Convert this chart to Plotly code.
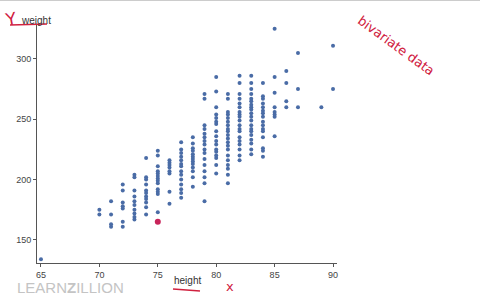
import plotly.graph_objects as go

# Data: height (in) -> list of weights (lb)
heights_weights = {
    65: [134],
    70: [175, 171],
    71: [182, 171, 163, 161],
    72: [196, 191, 181, 178, 176, 165, 161],
    73: [204, 202, 191, 186, 182, 179, 175, 172, 169, 167],
    74: [218, 202, 200, 196, 191, 189, 186, 184, 181, 177, 171],
    75: [224, 220, 211, 207, 205, 203, 201, 199, 197, 192, 190, 188, 173],
    76: [216, 214, 212, 210, 207, 205, 190, 180],
    77: [231, 225, 222, 219, 216, 213, 211, 207, 204, 200, 196, 192, 189, 185],
    78: [235, 230, 226, 224, 221, 219, 217, 215, 213, 210, 207, 202, 194],
    79: [271, 267, 245, 242, 238, 235, 232, 229, 225, 222, 217, 212, 207, 202, 197, 182],
    80: [285, 273, 260, 254, 251, 248, 246, 240, 236, 232, 229, 225, 223, 220, 218, 212, 205],
    81: [271, 267, 256, 254, 251, 248, 245, 242, 240, 237, 234, 231, 228, 225, 220, 216, 212, 209, 204, 197],
    82: [286, 280, 271, 267, 263, 260, 256, 254, 252, 249, 245, 242, 240, 235, 232, 229, 225, 220, 216],
    83: [286, 280, 275, 271, 267, 265, 262, 260, 258, 255, 252, 249, 245, 242, 240, 237, 233, 230, 225, 221],
    84: [280, 269, 267, 263, 260, 257, 255, 252, 248, 245, 242, 240, 235, 226, 224, 219],
    85: [325, 285, 272, 260, 256, 254, 252, 236],
    86: [290, 280, 265, 260],
    87: [305, 275, 260],
    89: [260],
    90: [311, 275],
}
height = [h for h, ws in heights_weights.items() for _ in ws]
weight = [w for ws in heights_weights.values() for w in ws]

highlight_height = [75]
highlight_weight = [165]

x_ticks = [65, 70, 75, 80, 85, 90]
y_ticks = [150, 200, 250, 300]

fig = go.Figure()
fig.add_trace(go.Scatter(
    x=height, y=weight, mode="markers",
    marker=dict(size=4, color="#4a6ca6", line=dict(width=0)),
    showlegend=False, hoverinfo="skip"))
fig.add_trace(go.Scatter(
    x=highlight_height, y=highlight_weight, mode="markers",
    marker=dict(size=6, color="#c8245a", line=dict(width=0)),
    showlegend=False, hoverinfo="skip"))

axis_common = dict(
    showgrid=False, zeroline=False, showline=True, linecolor="#555555",
    linewidth=1, ticks="outside", ticklen=3, tickcolor="#555555",
    tickfont=dict(family="Liberation Sans, Arial, sans-serif", size=9, color="#444444"),
)
fig.update_xaxes(range=[64.66, 90.34], tickvals=x_ticks, **axis_common)
fig.update_yaxes(range=[130.9, 328.1], tickvals=y_ticks, **axis_common)

red = "#d0213f"
W, H = 480, 300
L, R, T, B = 37, 143, 25, 37
pw, ph = W - L - R, H - T - B

def px(x):
    return (x - L) / pw

def py(y):
    return (H - B - y) / ph

annotations = [
    dict(text="weight", x=px(19), y=py(20), xanchor="left", yanchor="middle",
         font=dict(family="Liberation Sans, Arial", size=10, color="#333333")),
    dict(text="height", x=px(187), y=py(280), xanchor="center", yanchor="middle",
         font=dict(family="Liberation Sans, Arial", size=10, color="#333333")),
    dict(text="Y", x=px(11), y=py(19), xanchor="center", yanchor="middle",
         font=dict(family="DejaVu Sans", size=17, color=red), textangle=-10),
    dict(text="x", x=px(230), y=py(286), xanchor="center", yanchor="middle",
         font=dict(family="DejaVu Sans", size=13, color=red)),
    dict(text="bivariate data", x=px(396), y=py(45), xanchor="center", yanchor="middle",
         font=dict(family="DejaVu Sans", size=13, color=red), textangle=36),
    dict(text="LEARN<b>Z</b>ILLION", x=px(70), y=py(287), xanchor="center", yanchor="middle",
         font=dict(family="Liberation Sans, Arial", size=15, color="#c4c4c4")),
]
for a in annotations:
    a.update(xref="paper", yref="paper", showarrow=False)

shapes = [
    dict(type="line", xref="paper", yref="paper", x0=px(10), x1=px(47), y0=py(25), y1=py(24),
         line=dict(color=red, width=1.5)),
    dict(type="line", xref="paper", yref="paper", x0=px(173), x1=px(200), y0=py(289), y1=py(291),
         line=dict(color=red, width=1.5)),
    dict(type="line", xref="paper", yref="paper", x0=px(0), x1=px(480), y0=py(0.5), y1=py(0.5),
         line=dict(color="#cccccc", width=1)),
]

fig.update_layout(
    width=W, height=H,
    margin=dict(l=L, r=R, t=T, b=B),
    paper_bgcolor="white", plot_bgcolor="white",
    annotations=annotations, shapes=shapes,
)
fig.write_html("out.html")
